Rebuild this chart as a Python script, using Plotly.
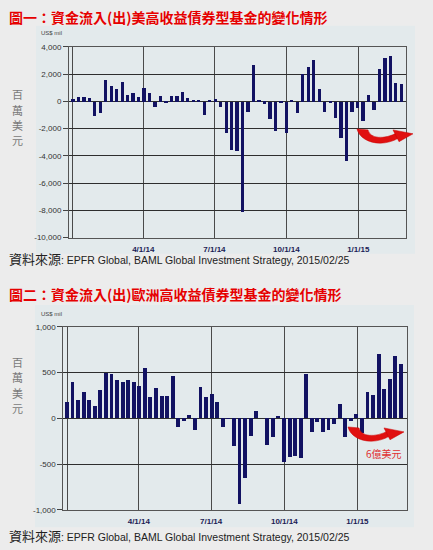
import pandas as pd
import plotly.graph_objects as go

# weekly fund flows, US$ mil (EPFR weekly, Wednesdays)
weeks = pd.date_range("2014-01-01", periods=61, freq="7D")

us_flows = [175, 325, 325, 250, -1075, -825, 1575, 1125, 925, 1450,
            475, 600, 325, 1000, 600, -425, 400, -100, 400, 375,
            690, 265, 145, 70, -1010, 70, 215, -385, -2330, -3550,
            -3620, -8100, -770, 2660, 145, -145, -1270, -2160, -70, -2330,
            145, -815, 2015, 2540, 3050, 910, -770, -100, -1220, -2660,
            -4340, -770, -500, -1460, 480, -625, 2350, 3170, 3330, 1340, 1270]

eu_flows = [175, 395, 200, 286, 207, 135, 315, 500, 482, 421,
            396, 421, 396, 360, 554, 232, 333, 242, 250, 466,
            -92, -29, 40, -125, 340, 232, 270, 178, -89, 5,
            -296, -937, -646, -189, 78, 0, -289, -206, 32, -475,
            -420, -414, -432, 482, -143, -39, -143, -129, -64, 157,
            -207, -29, 50, -154, 286, 257, 700, 321, 436, 682, 600]

x_tickvals = ["2014-01-01", "2014-04-01", "2014-07-01", "2014-10-01", "2015-01-01"]
x_ticktext = ["", "4/1/14", "7/1/14", "10/1/14", "1/1/15"]

us_tickvals = [4000, 2000, 0, -2000, -4000, -6000, -8000, -10000]
us_ticktext = ["4,000", "2,000", "0", "-2,000", "-4,000", "-6,000", "-8,000", "-10,000"]
eu_tickvals = [1000, 500, 0, -500, -1000]
eu_ticktext = ["1,000", "500", "0", "-500", "-1,000"]

title_1 = "圖一：資金流入(出)美高收益債券型基金的變化情形"
title_2 = "圖二：資金流入(出)歐洲高收益債券型基金的變化情形"
source = "<span style='font-family:Noto Sans CJK TC;font-size:13px'>資料來源</span>: EPFR Global, BAML Global Investment Strategy, 2015/02/25"
unit_chars = ["百", "萬", "美", "元"]

W, H = 433, 550
BAR = "#121262"
PANEL = "#e3eaec"
DAY = 86400000


def px(x, y):
    return x / W, 1 - y / H


def arrow_paths(x0, y0, s=1.0):
    # red U-turn arrow, drawn in pixel units then converted to paper
    def P(pts):
        return " ".join("%.4f,%.4f" % px(x0 + a * s, y0 + b * s) for a, b in pts)
    body = ("M " + P([(0, 0)]) + " C " + P([(3, 13), (24, 20), (42, 9)]) +
            " L " + P([(40, 4)]) + " C " + P([(27, 11), (13, 10), (11, 1)]) + " Z")
    head = "M " + P([(36, 1)]) + " L " + P([(56, 5)]) + " L " + P([(42, 13)]) + " Z"
    return [body, head]


fig = go.Figure()

fig.add_trace(go.Bar(x=weeks, y=us_flows, width=4.2 * DAY, marker_color=BAR,
                     marker_line_width=0, xaxis="x", yaxis="y", showlegend=False))
fig.add_trace(go.Bar(x=weeks, y=eu_flows, width=4.9 * DAY, marker_color=BAR,
                     marker_line_width=0, xaxis="x2", yaxis="y2", showlegend=False))

xcommon = dict(type="date", tickvals=x_tickvals, ticktext=x_ticktext,
               showgrid=True, gridcolor="#4a4a4a", gridwidth=1,
               showline=True, linecolor="#555555", mirror=True, zeroline=False,
               ticks="outside", ticklen=4, tickcolor="rgba(0,0,0,0)",
               tickfont=dict(family="Liberation Sans, Arial", size=8,
                             color="#1c1c55", weight="bold"))
ycommon = dict(showgrid=True, gridcolor="#2e2e2e", gridwidth=1,
               showline=True, linecolor="#555555", mirror=True,
               zeroline=True, zerolinecolor="#2e2e2e", zerolinewidth=1,
               ticks="outside", ticklen=5, tickcolor="#444444",
               tickfont=dict(family="Liberation Sans, Arial", size=8, color="#333333"))

x1a, _ = px(69, 0)
x1b, _ = px(406, 0)
_, y1t = px(0, 43.5)
_, y1b = px(0, 237.5)
x2a, _ = px(63.3, 0)
x2b, _ = px(406.7, 0)
_, y2t = px(0, 328.3)
_, y2b = px(0, 514.3)

fig.update_layout(
    width=W, height=H,
    margin=dict(l=0, r=0, t=0, b=0),
    paper_bgcolor="#ececec",
    plot_bgcolor=PANEL,
    bargap=0,
    xaxis=dict(xcommon, domain=[x1a, x1b], anchor="y",
               range=["2013-12-27", "2015-03-03"]),
    yaxis=dict(ycommon, domain=[y1b, y1t], anchor="x", range=[-10000, 4000],
               tickvals=us_tickvals, ticktext=us_ticktext),
    xaxis2=dict(xcommon, domain=[x2a, x2b], anchor="y2",
                range=["2013-12-27", "2015-03-04"]),
    yaxis2=dict(ycommon, domain=[y2b, y2t], anchor="x2", range=[-1000, 1000],
                tickvals=eu_tickvals, ticktext=eu_ticktext),
)

shapes = []
for (a, b, c, d) in [(36, 22, 415, 254), (35, 306, 414, 532)]:
    xa, ya = px(a, b)
    xb, yb = px(c, d)
    shapes.append(dict(type="rect", xref="paper", yref="paper", x0=xa, x1=xb,
                       y0=yb, y1=ya, fillcolor=PANEL, line_width=0, layer="below"))
for ox, oy in [(357, 127), (348, 430)]:
    for p in arrow_paths(ox, oy):
        shapes.append(dict(type="path", xref="paper", yref="paper", path=p,
                           fillcolor="#e01010", line=dict(color="#c80000", width=0.5)))
fig.update_layout(shapes=shapes)

ann = []
for t, yy in [(title_1, 13), (title_2, 295)]:
    ax, ay = px(7, yy)
    ann.append(dict(text=t, x=ax, y=ay, xanchor="left", yanchor="middle",
                    font=dict(family="Noto Sans CJK TC", size=14, color="#e60000", weight="bold")))
for yy in [259, 540]:
    ax, ay = px(7, yy)
    ann.append(dict(text=source, x=ax, y=ay, xanchor="left", yanchor="middle",
                    font=dict(family="Liberation Sans, Arial", size=10.5, color="#222222")))
for y0 in [92, 364]:
    for i, ch in enumerate(unit_chars):
        ax, ay = px(17, y0 + i * 15.5)
        ann.append(dict(text=ch, x=ax, y=ay, xanchor="center", yanchor="middle",
                        font=dict(family="Noto Sans CJK TC", size=11, color="#7a7a7a")))
for yy in [29, 315]:
    ax, ay = px(39, yy)
    ann.append(dict(text="US$ mil", x=ax, y=ay, xanchor="left", yanchor="middle",
                    font=dict(family="Liberation Sans, Arial", size=6, color="#444444")))
ax, ay = px(384, 457)
ann.append(dict(text="6億美元", x=ax, y=ay, xanchor="center", yanchor="middle",
                font=dict(family="Noto Sans CJK TC", size=10, color="#e03030")))
for a in ann:
    a.update(xref="paper", yref="paper", showarrow=False)
fig.update_layout(annotations=ann)

fig.write_html("out.html", config={"displayModeBar": False},
               post_script="document.body.style.margin='0';")
